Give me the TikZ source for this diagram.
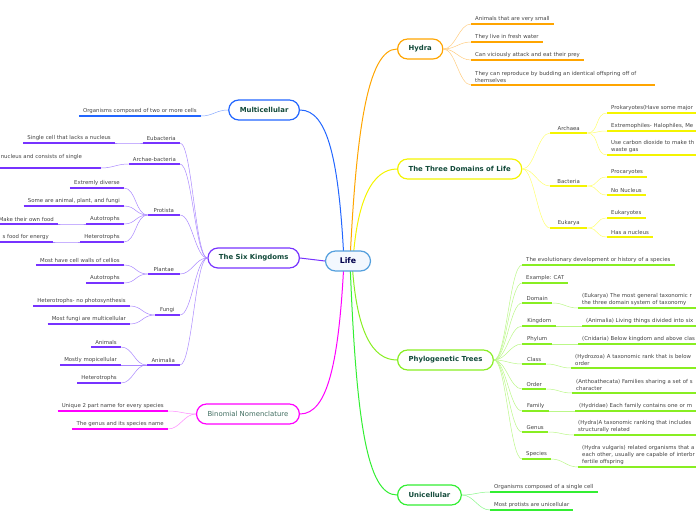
\documentclass[tikz,border=0pt]{standalone}
\usepackage{fontspec}
\setmainfont{DejaVu Sans}
\usetikzlibrary{positioning,backgrounds}

\definecolor{lifeC}{HTML}{55A0DD}
\definecolor{lifeF}{HTML}{F3F8FE}
\definecolor{hydraC}{HTML}{FFA500}
\definecolor{hydraT}{HTML}{FFCC80}
\definecolor{domC}{HTML}{F4F400}
\definecolor{domT}{HTML}{FFFF70}
\definecolor{phyloC}{HTML}{88EE22}
\definecolor{phyloT}{HTML}{BBF788}
\definecolor{uniC}{HTML}{33EE33}
\definecolor{uniT}{HTML}{88F788}
\definecolor{multiC}{HTML}{2266FF}
\definecolor{multiT}{HTML}{88AAFF}
\definecolor{sixC}{HTML}{7733FF}
\definecolor{sixT}{HTML}{AA88FF}
\definecolor{binC}{HTML}{FF00FF}
\definecolor{binT}{HTML}{FF88FF}
\definecolor{nodetext}{HTML}{124A3A}
\definecolor{leafgray}{HTML}{444444}

\begin{document}
\begin{tikzpicture}[x=1pt,y=-1pt,
    mainnode/.style={rectangle, rounded corners=10pt, draw=#1, very thick, fill=white, minimum height=20pt, inner xsep=11pt, font=\fontsize{6.9}{8}\selectfont\bfseries, text=nodetext},
    leaf/.style={inner xsep=4pt, inner ysep=2pt, font=\fontsize{5.4}{7}\selectfont, text=leafgray, align=left},
    leafR/.style={leaf, anchor=south west, append after command={(\tikzlastnode.south west) edge[draw=#1, line width=1.4pt] (\tikzlastnode.south east)}},
    leafL/.style={leaf, anchor=south east, append after command={(\tikzlastnode.south west) edge[draw=#1, line width=1.4pt] (\tikzlastnode.south east)}},
    twigR/.style={draw=#1, line width=0.5pt, to path={.. controls +(12,0) and +(-12,0) .. (\tikztotarget)}},
    twigL/.style={draw=#1, line width=0.5pt, to path={.. controls +(-12,0) and +(12,0) .. (\tikztotarget)}},
    mainedge/.style={line width=1pt},
    ]
\clip (0,0) rectangle (696,520);

%Nodes
\node[mainnode=lifeC, fill=lifeF, minimum width=45pt, text=black!70!blue, font=\fontsize{7.8}{9}\selectfont\bfseries] (life) at (348,261) {Life};

\node[mainnode=hydraC,  anchor=west] (hydra)  at (397,49)  {Hydra};
\node[mainnode=domC,    anchor=west] (threed) at (397,169) {The Three Domains of Life};
\node[mainnode=phyloC,  anchor=west] (phylo)  at (397,360) {Phylogenetic Trees};
\node[mainnode=uniC,    anchor=west] (uni)    at (397,495) {Unicellular};
\node[mainnode=multiC,  anchor=east] (multi)  at (300,110) {Multicellular};
\node[mainnode=sixC,    anchor=east] (six)    at (300,258) {The Six Kingdoms};
\node[mainnode=binC,    anchor=east, font=\fontsize{6.9}{8}\selectfont, text=nodetext!80] (binom) at (300,414) {Binomial Nomenclature};

% Hydra
\node[leafR=hydraC] (h1) at (471,24) {Animals that are very small};
\node[leafR=hydraC] (h2) at (471,42) {They live in fresh water};
\node[leafR=hydraC] (h3) at (471,60) {Can viciously attack and eat their prey};
\node[leafR=hydraC, text width=176pt] (h4) at (471,85) {They can reproduce by budding an identical offspring off of\\themselves};

% Three domains
\node[leafR=domC, minimum width=37pt] (archaea)  at (550,133) {Archaea};
\node[leafR=domC, text width=100pt] (a1) at (607,113) {Prokaryotes(Have some major};
\node[leafR=domC, text width=100pt] (a2) at (607,131) {Extremophiles- Halophiles, Me};
\node[leafR=domC, text width=100pt] (a3) at (607,155) {Use carbon dioxide to make th\\waste gas};
\node[leafR=domC, minimum width=37pt] (bacteria) at (550,186) {Bacteria};
\node[leafR=domC] (b1) at (607,177) {Procaryotes};
\node[leafR=domC] (b2) at (607,195) {No Nucleus};
\node[leafR=domC, minimum width=37pt] (eukarya)  at (550,228) {Eukarya};
\node[leafR=domC] (e1) at (607,218) {Eukaryotes};
\node[leafR=domC] (e2) at (607,237) {Has a nucleus};

% Phylogenetic trees
\node[leafR=phyloC] (p1) at (522,265) {The evolutionary development or history of a species};
\node[leafR=phyloC] (p2) at (522,283) {Example: CAT};
\node[leafR=phyloC, minimum width=30pt] (domain)  at (522,303) {Domain};
\node[leafR=phyloC, text width=130pt] (dom1) at (578,308) {(Eukarya) The most general taxonomic r\\the three domain system of taxonomy};
\node[leafR=phyloC, minimum width=34pt] (kingdom) at (522,326) {Kingdom};
\node[leafR=phyloC, text width=130pt] (king1) at (582,326) {(Animalia) Living things divided into six};
\node[leafR=phyloC, minimum width=30pt] (phylum)  at (522,344) {Phylum};
\node[leafR=phyloC, text width=130pt] (phy1) at (578,344) {(Cnidaria) Below kingdom and above clas};
\node[leafR=phyloC, minimum width=24pt] (class)   at (522,364) {Class};
\node[leafR=phyloC, text width=130pt] (cla1) at (571,368) {(Hydrozoa) A taxonomic rank that is below\\order};
\node[leafR=phyloC, minimum width=24pt] (order)   at (522,389) {Order};
\node[leafR=phyloC, text width=130pt] (ord1) at (572,393) {(Anthoathecata) Families sharing a set of s\\character};
\node[leafR=phyloC, minimum width=27pt] (family)  at (522,411) {Family};
\node[leafR=phyloC, text width=130pt] (fam1) at (575,411) {(Hydridae) Each family contains one or m};
\node[leafR=phyloC, minimum width=26pt] (genus)   at (522,432) {Genus};
\node[leafR=phyloC, text width=130pt] (gen1) at (574,435) {(Hydra)A taxonomic ranking that includes\\structurally related};
\node[leafR=phyloC, minimum width=28pt] (species) at (522,459) {Species};
\node[leafR=phyloC, text width=130pt] (spe1) at (578,467) {(Hydra vulgaris) related organisms that a\\each other, usually are capable of interbr\\fertile offspring};

% Unicellular
\node[leafR=uniC] (u1) at (490,492) {Organisms composed of a single cell};
\node[leafR=uniC] (u2) at (490,510) {Most protists are unicellular};

% Multicellular
\node[leafL=multiC] (m1) at (201,116) {Organisms composed of two or more cells};

% Six kingdoms
\node[leafL=sixC] (eubact)   at (180,143) {Eubacteria};
\node[leafL=sixC] (eub1)     at (115,143) {Single cell that lacks a nucleus};
\node[leafL=sixC] (archbact) at (180,164) {Archae-bacteria};
\node[leafL=sixC, text width=96pt] (arb1) at (101,168) {nucleus and consists of single\\\mbox{}};
\node[leafL=sixC, minimum width=32pt] (protista) at (180,215) {Protista};
\node[leafL=sixC] (pr1)  at (124,188) {Extremly diverse};
\node[leafL=sixC] (pr2)  at (124,206) {Some are animal, plant, and fungi};
\node[leafL=sixC] (pr3)  at (124,224) {Autotrophs};
\node[leafL=sixC] (pr3a) at (58,224)  {Make their own food};
\node[leafL=sixC] (pr4)  at (124,242) {Heterotrophs};
\node[leafL=sixC] (pr4a) at (53,242)  {s food for energy};
\node[leafL=sixC, minimum width=32pt] (plantae) at (180,274) {Plantae};
\node[leafL=sixC] (pl1)  at (124,265) {Most have cell walls of cellios};
\node[leafL=sixC] (pl2)  at (124,283) {Autotrophs};
\node[leafL=sixC, minimum width=25pt] (fungi) at (180,315) {Fungi};
\node[leafL=sixC] (fu1)  at (130,306) {Heterotrophs- no photosynthesis};
\node[leafL=sixC] (fu2)  at (130,324) {Most fungi are multicellular};
\node[leafL=sixC, minimum width=33pt] (animalia) at (180,365) {Animalia};
\node[leafL=sixC] (an1)  at (121,347) {Animals};
\node[leafL=sixC] (an2)  at (121,365) {Mostly mopicellular};
\node[leafL=sixC] (an3)  at (121,383) {Heterotrophs};

% Binomial nomenclature
\node[leafL=binC] (bi1) at (168,411) {Unique 2 part name for every species};
\node[leafL=binC] (bi2) at (168,429) {The genus and its species name};

%Lines
\begin{scope}[on background layer]
\draw[mainedge, hydraC] ([xshift=2pt]life.center) .. controls +(6,-125) and +(-30,0) .. (hydra.west);
\draw[mainedge, domC]   ([xshift=5pt]life.center) .. controls +(4,-60) and +(-25,0) .. (threed.west);
\draw[mainedge, phyloC] ([xshift=4pt]life.center) .. controls +(4,70) and +(-25,0) .. (phylo.west);
\draw[mainedge, uniC]   ([xshift=2pt]life.center) .. controls +(6,160) and +(-30,0) .. (uni.west);
\draw[mainedge, multiC] ([xshift=-4pt]life.center) .. controls +(-5,-100) and +(28,0) .. (multi.east);
\draw[mainedge, sixC]   (life.west) -- (six.east);
\draw[mainedge, binC]   ([xshift=-4pt]life.center) .. controls +(-5,100) and +(28,0) .. (binom.east);
\end{scope}

\path
(hydra.east) edge[twigR=hydraT] (h1.south west)
    edge[twigR=hydraT] (h2.south west)
    edge[twigR=hydraT] (h3.south west)
    edge[twigR=hydraT] (h4.south west)
(threed.east) edge[twigR=domT] (archaea.south west)
    edge[twigR=domT] (bacteria.south west)
    edge[twigR=domT] (eukarya.south west)
(archaea.south east) edge[twigR=domT] (a1.south west)
    edge[twigR=domT] (a2.south west)
    edge[twigR=domT] (a3.south west)
(bacteria.south east) edge[twigR=domT] (b1.south west)
    edge[twigR=domT] (b2.south west)
(eukarya.south east) edge[twigR=domT] (e1.south west)
    edge[twigR=domT] (e2.south west)
(phylo.east) edge[twigR=phyloT] (p1.south west)
    edge[twigR=phyloT] (p2.south west)
    edge[twigR=phyloT] (domain.south west)
    edge[twigR=phyloT] (kingdom.south west)
    edge[twigR=phyloT] (phylum.south west)
    edge[twigR=phyloT] (class.south west)
    edge[twigR=phyloT] (order.south west)
    edge[twigR=phyloT] (family.south west)
    edge[twigR=phyloT] (genus.south west)
    edge[twigR=phyloT] (species.south west)
(domain.south east) edge[twigR=phyloT] (dom1.south west)
(kingdom.south east) edge[twigR=phyloT] (king1.south west)
(phylum.south east) edge[twigR=phyloT] (phy1.south west)
(class.south east) edge[twigR=phyloT] (cla1.south west)
(order.south east) edge[twigR=phyloT] (ord1.south west)
(family.south east) edge[twigR=phyloT] (fam1.south west)
(genus.south east) edge[twigR=phyloT] (gen1.south west)
(species.south east) edge[twigR=phyloT] (spe1.south west)
(uni.east) edge[twigR=uniT] (u1.south west)
    edge[twigR=uniT] (u2.south west)
(multi.west) edge[twigL=multiT] (m1.south east)
(six.west) edge[twigL=sixT] (eubact.south east)
    edge[twigL=sixT] (archbact.south east)
    edge[twigL=sixT] (protista.south east)
    edge[twigL=sixT] (plantae.south east)
    edge[twigL=sixT] (fungi.south east)
    edge[twigL=sixT] (animalia.south east)
(eubact.south west) edge[twigL=sixT] (eub1.south east)
(archbact.south west) edge[twigL=sixT] (arb1.south east)
(protista.south west) edge[twigL=sixT] (pr1.south east)
    edge[twigL=sixT] (pr2.south east)
    edge[twigL=sixT] (pr3.south east)
    edge[twigL=sixT] (pr4.south east)
(pr3.south west) edge[twigL=sixT] (pr3a.south east)
(pr4.south west) edge[twigL=sixT] (pr4a.south east)
(plantae.south west) edge[twigL=sixT] (pl1.south east)
    edge[twigL=sixT] (pl2.south east)
(fungi.south west) edge[twigL=sixT] (fu1.south east)
    edge[twigL=sixT] (fu2.south east)
(animalia.south west) edge[twigL=sixT] (an1.south east)
    edge[twigL=sixT] (an2.south east)
    edge[twigL=sixT] (an3.south east)
(binom.west) edge[twigL=binT] (bi1.south east)
    edge[twigL=binT] (bi2.south east);
\end{tikzpicture}
\end{document}
